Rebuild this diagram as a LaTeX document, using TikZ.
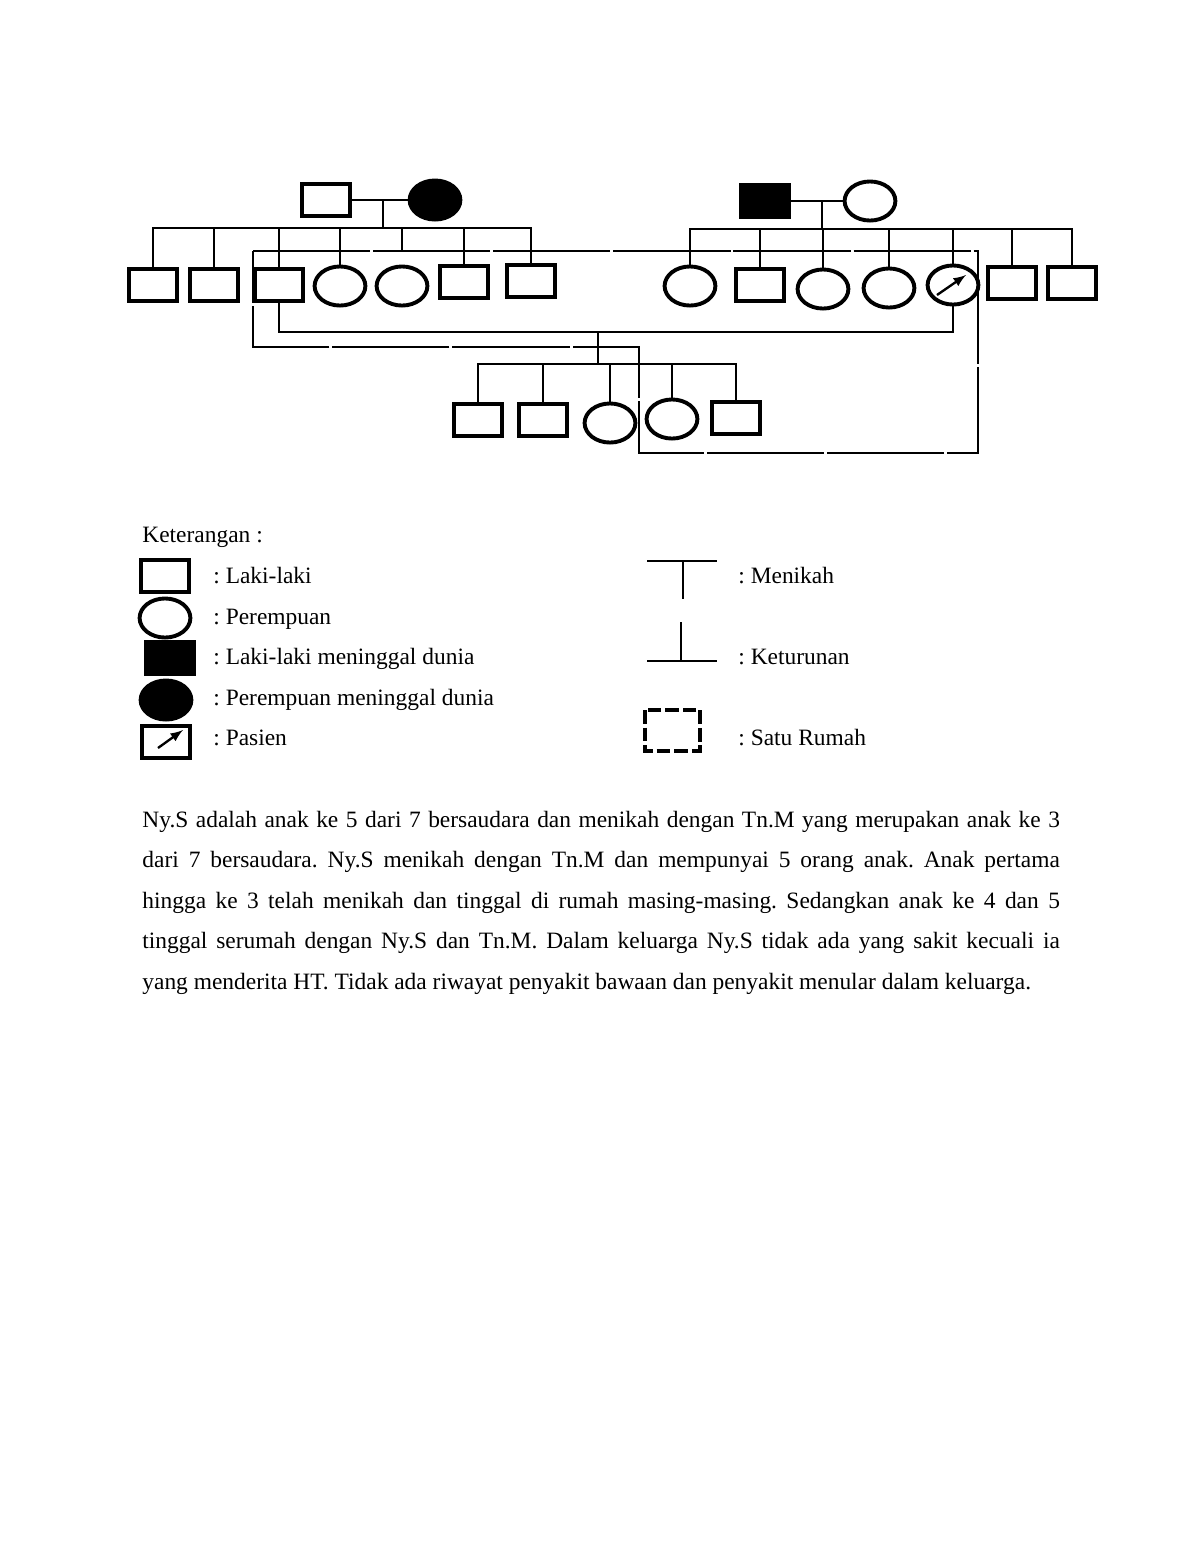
\documentclass[tikz,border=0pt]{standalone}
\usepackage{fontspec}
\setmainfont{Liberation Serif}
\usetikzlibrary{shapes.geometric}
\frenchspacing

\tikzset{
  laki/.style={draw, rectangle, line width=2pt, minimum width=24.5pt, minimum height=16pt, inner sep=0pt},
  perempuan/.style={draw, ellipse, line width=2pt, minimum width=26pt, minimum height=20pt, inner sep=0pt},
  meninggal/.style={fill=black},
  garis/.style={line width=1.2pt},
  rumah/.style={line width=1.2pt, dash pattern=on 60pt off 1.5pt},
  teks/.style={anchor=base west, inner sep=0pt, font=\fontsize{12}{14}\selectfont}
}

\begin{document}
\begin{tikzpicture}[x=0.512pt, y=-0.512pt]
    \useasboundingbox (0, 0) rectangle (1200, 1553);
    \node[laki](k1) at (326, 200) {};
    \node[perempuan, meninggal](n1) at (435, 200) {};
    \node[laki, meninggal](k2) at (765, 201) {};
    \node[perempuan](n2) at (870, 201) {};
    \coordinate(m1) at (383, 200);
    \coordinate(s1) at (383, 228);
    \coordinate(m2) at (822, 201);
    \coordinate(s2) at (822, 229);
    \node[laki](a1) at (153, 285) {};
    \node[laki](a2) at (214, 285) {};
    \node[laki](a3) at (279, 285) {};
    \node[perempuan](a4) at (340, 286) {};
    \node[perempuan](a5) at (402, 286) {};
    \node[laki](a6) at (464, 282) {};
    \node[laki](a7) at (531, 281) {};
    \node[perempuan](b1) at (690, 286) {};
    \node[laki](b2) at (760, 285) {};
    \node[perempuan](b3) at (823, 289) {};
    \node[perempuan](b4) at (889, 288) {};
    \node[perempuan](b5) at (953, 285) {};
    \node[laki](b6) at (1012, 283) {};
    \node[laki](b7) at (1072, 283) {};
    \node[laki](c1) at (478, 420) {};
    \node[laki](c2) at (543, 420) {};
    \node[perempuan](c3) at (610, 423) {};
    \node[perempuan](c4) at (672, 419) {};
    \node[laki](c5) at (736, 418) {};
    \coordinate(m3) at (598, 332);
    \coordinate(s3) at (598, 364);
    \coordinate(r1) at (253, 251);
    \coordinate(r2) at (978, 453);
    \coordinate(r3) at (639, 347);
    \draw[garis] (k1)--(n1);
    \draw[garis] (m1)--(s1);
    \draw[garis] (k2)--(n2);
    \draw[garis] (m2)--(s2);
    \foreach \a in {a1,a2,a3,a4,a6,a7}
        \draw[garis] (\a.north)|-(s1);
    \draw[garis] (r1 -| a5)|-(s1);
    \foreach \b in {b1,b2,b3,b4,b5,b6,b7}
        \draw[garis] (\b.north)|-(s2);
    \draw[garis] (a3.south)|-(m3)-|(b5.south);
    \draw[garis] (m3)--(s3);
    \foreach \c in {c1,c2,c3,c4,c5}
        \draw[garis] (\c.north)|-(s3);
    \draw[garis, -latex] ([shift={(-16, 10)}]b5.center)--([shift={(13, -10)}]b5.center);
    \draw[rumah] (r1)-|(r2)-|(r3)-|(r1);
    \node[teks](ket) at (142, 542) {Keterangan :};
    \node[laki](l1) at (165, 576) {};
    \node[perempuan](l2) at (165, 618) {};
    \node[laki, meninggal](l3) at (170, 658) {};
    \node[perempuan, meninggal](l4) at (166, 700) {};
    \node[laki](l5) at (166, 742) {};
    \draw[garis, -latex] ([shift={(-8, 6)}]l5.center)--([shift={(17, -12)}]l5.center);
    \node[teks](t1) at (213, 583) {: Laki-laki};
    \node[teks](t2) at (213, 624) {: Perempuan};
    \node[teks](t3) at (213, 664) {: Laki-laki meninggal dunia};
    \node[teks](t4) at (213, 705) {: Perempuan meninggal dunia};
    \node[teks](t5) at (213, 745) {: Pasien};
    \draw[line width=1.5pt] (647, 561)--(717, 561) (683, 561)--(683, 599);
    \draw[line width=1.5pt] (681, 622)--(681, 661) (647, 661)--(717, 661);
    \draw[line width=2pt, dash pattern=on 7pt off 2pt] (645, 710) rectangle (700, 751);
    \node[teks](t6) at (738, 583) {: Menikah};
    \node[teks](t7) at (738, 664) {: Keturunan};
    \node[teks](t8) at (738, 745) {: Satu Rumah};
    \node[teks](p1) at (142, 827) {\makebox[6.5in][s]{Ny.S adalah anak ke 5 dari 7 bersaudara dan menikah dengan Tn.M yang merupakan anak ke 3}};
    \node[teks](p2) at (142, 867) {\makebox[6.5in][s]{dari 7 bersaudara. Ny.S menikah dengan Tn.M dan mempunyai 5 orang anak. Anak pertama}};
    \node[teks](p3) at (142, 908) {\makebox[6.5in][s]{hingga ke 3 telah menikah dan tinggal di rumah masing-masing. Sedangkan anak ke 4 dan 5}};
    \node[teks](p4) at (142, 948) {\makebox[6.5in][s]{tinggal serumah dengan Ny.S dan Tn.M. Dalam keluarga Ny.S tidak ada yang sakit kecuali ia}};
    \node[teks](p5) at (142, 989) {yang menderita HT. Tidak ada riwayat penyakit bawaan dan penyakit menular dalam keluarga.};
\end{tikzpicture}
\end{document}
